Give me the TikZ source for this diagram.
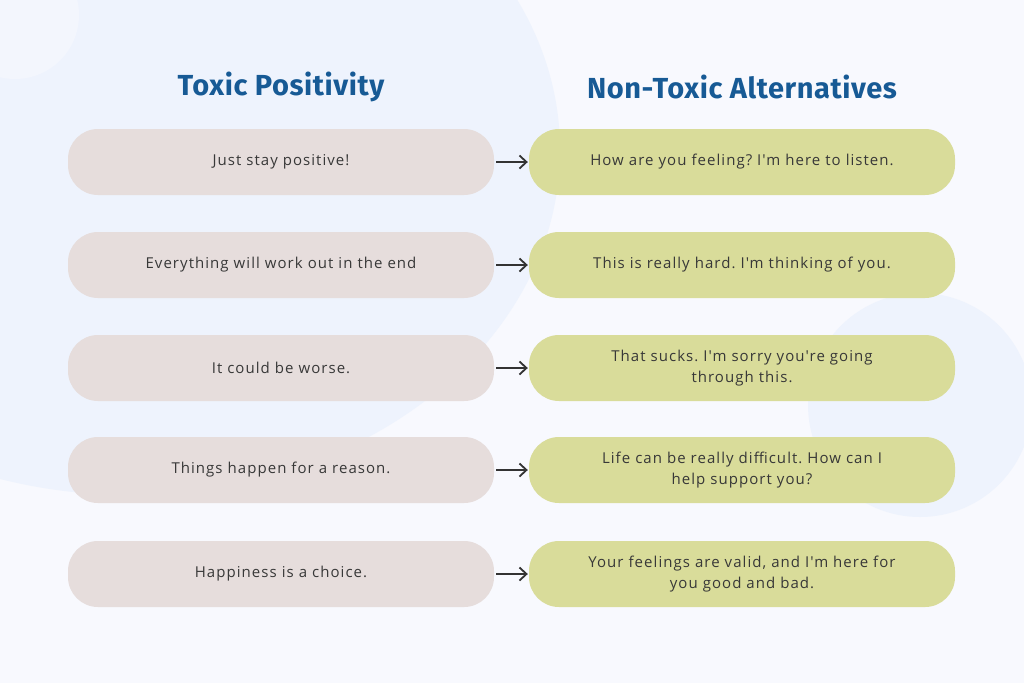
\documentclass[tikz,border=0pt]{standalone}
\usepackage{fontspec}
\setmainfont{Open Sans}
\newfontfamily\bodyf[LetterSpace=7]{Open Sans}
\newfontfamily\titlef[LetterSpace=2]{Fira Sans}
\usetikzlibrary{arrows.meta}
\frenchspacing
\definecolor{leftc}{HTML}{E6DDDC}
\definecolor{rightc}{HTML}{D9DC9A}
\definecolor{titlec}{HTML}{175A95}
\definecolor{bgc}{HTML}{F8F9FE}
\definecolor{circc}{HTML}{EEF3FD}
\begin{document}
\begin{tikzpicture}[x=1pt,y=-1pt,
  pill/.style={rounded corners=30pt,minimum width=426pt,minimum height=66pt,inner sep=0pt,align=center,text width=400pt,font=\bodyf\fontsize{15}{21}\selectfont,text=black!78},
  lft/.style={pill,fill=leftc},
  rgt/.style={pill,fill=rightc},
  arr/.style={-{Straight Barb[length=7pt,width=13pt]},line width=1.8pt,draw=black!80},
  ttl/.style={font=\titlef\fontsize{29}{32}\selectfont\bfseries,text=titlec}]
\fill[bgc] (0,0) rectangle (1024,683);
\begin{scope}
\clip (0,0) rectangle (1024,683);
\fill[circc] (130,150) ellipse (430 and 345);
\fill[bgc!50!circc] (15,15) circle (64);
\fill[circc] (920,405) circle (112);
\end{scope}
\useasboundingbox (0,0) rectangle (1024,683);
\node[ttl] (t1) at (281,87) {Toxic Positivity};
\node[ttl] (t2) at (742,87) {Non-Toxic Alternatives};
\foreach \i/\y/\a/\b in {1/162/{Just stay positive!}/{How are you feeling? I'm here to listen.},
  2/265/{Everything will work out in the end}/{This is really hard. I'm thinking of you.},
  3/368/{It could be worse.}/{That sucks. I'm sorry you're going\\through this.},
  4/470/{Things happen for a reason.}/{Life can be really difficult. How can I\\help support you?},
  5/574/{Happiness is a choice.}/{Your feelings are valid, and I'm here for\\you good and bad.}}{
  \node[lft] (l\i) at (281,\y) {\a};
  \node[rgt] (r\i) at (742,\y) {\b};
  \draw[arr] ([xshift=2pt]l\i.east) -- ([xshift=-1pt]r\i.west);
}
\end{tikzpicture}
\end{document}
